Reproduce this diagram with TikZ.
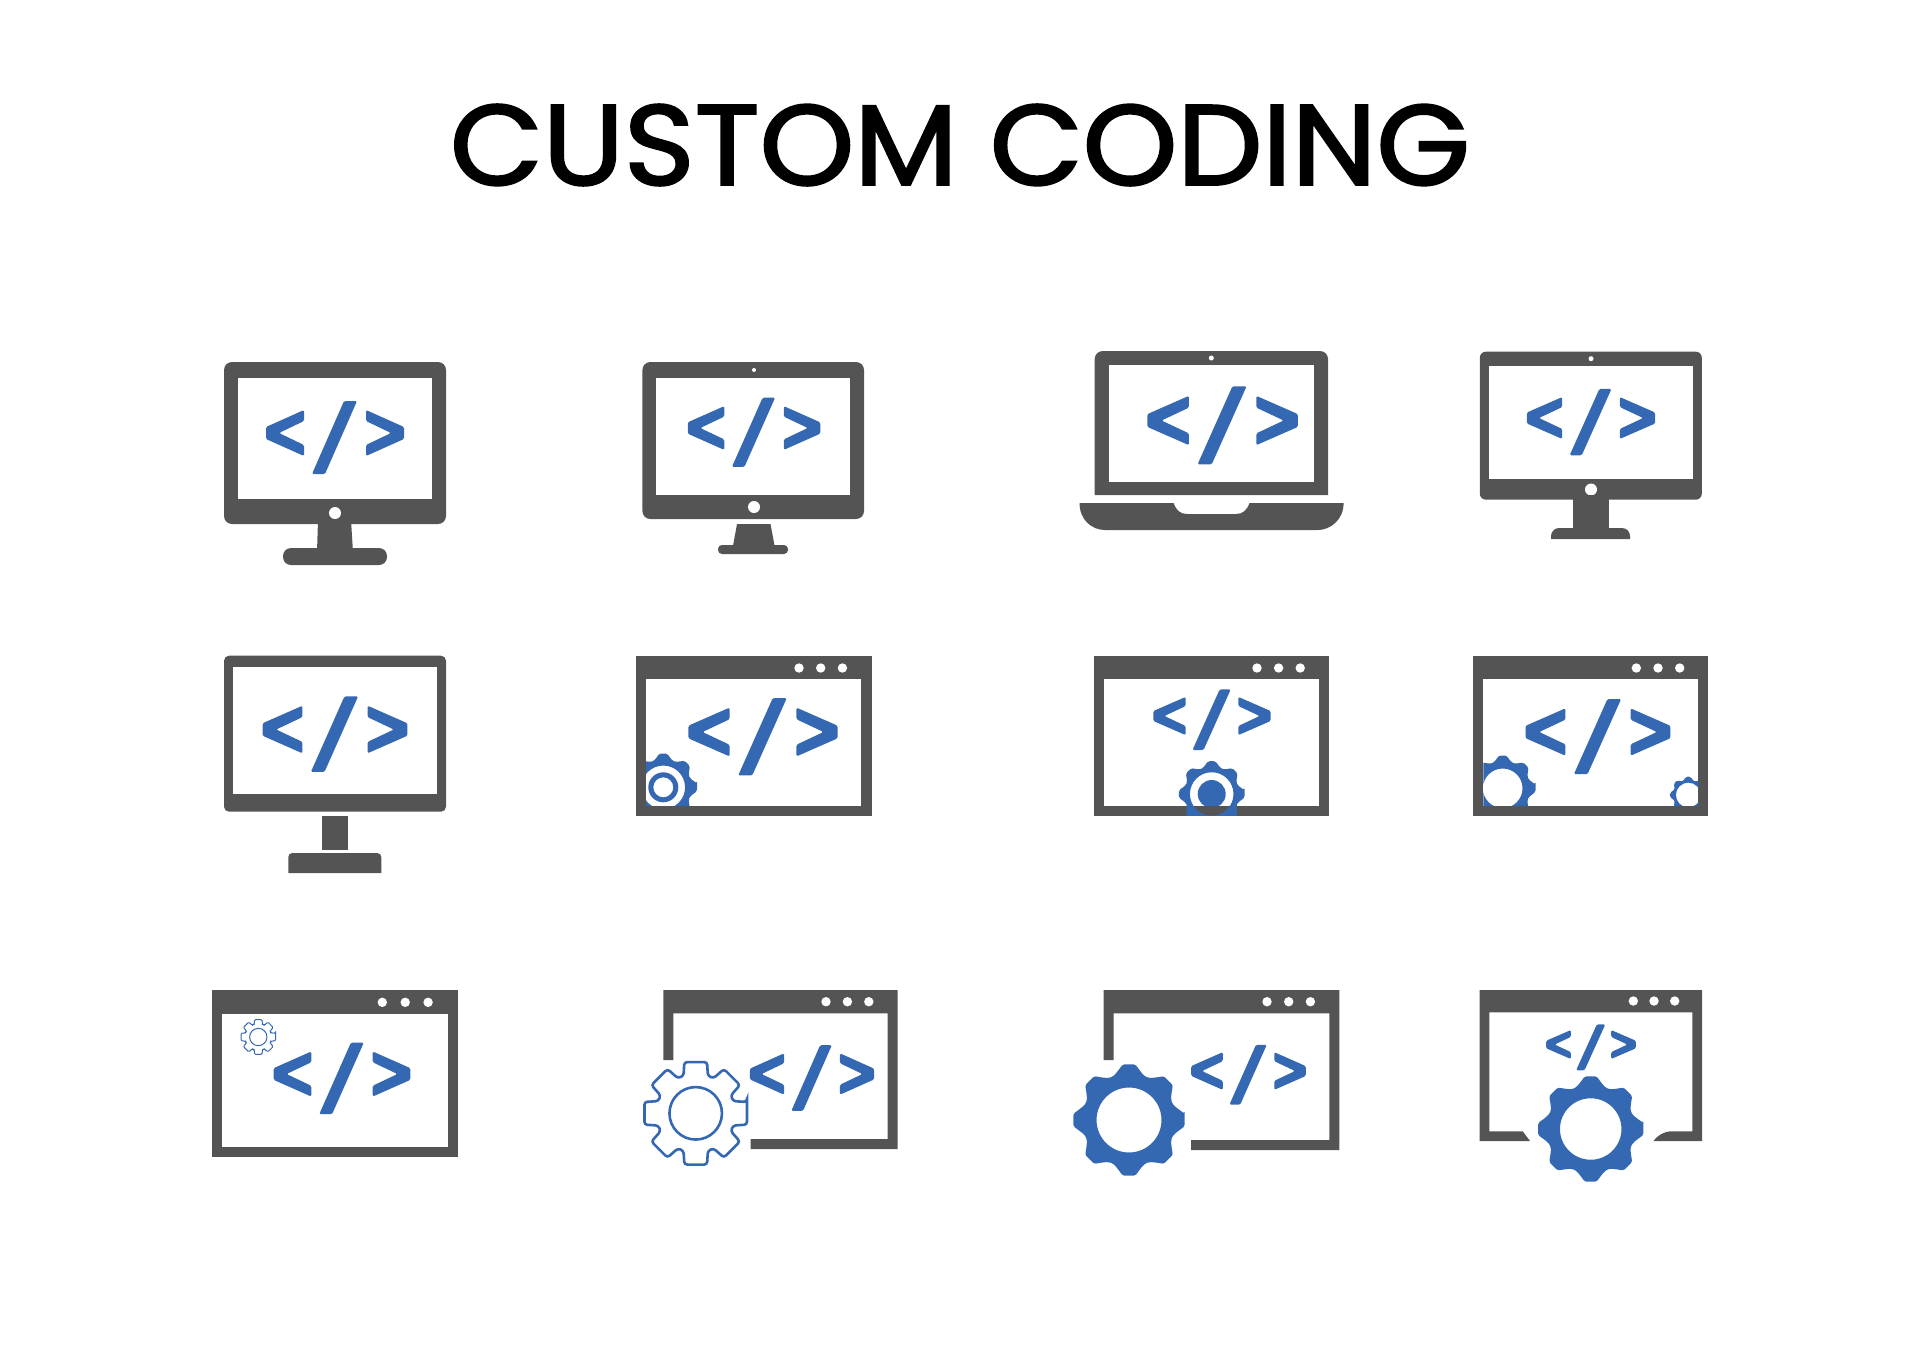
\documentclass[tikz,border=0pt]{standalone}
\usepackage{fontspec}
\newfontfamily\titlefont{Poppins}[FakeBold=2]
\definecolor{framegray}{RGB}{84, 84, 84}
\definecolor{codeblue}{RGB}{53, 104, 178}

% </> at centre (#1,#2), xscale #3, yscale #4
\newcommand{\codetag}[4]{%
  \begin{scope}[shift={(#1,#2)}, xscale=#3, yscale=#4, fill=codeblue, rounded corners=0.7pt]
    \fill (-31,-23) -- (-31,-12) -- (-56,0) -- (-31,12) -- (-31,23) -- (-69,6) -- (-69,-6) -- cycle;
    \fill (31,-23) -- (31,-12) -- (56,0) -- (31,12) -- (31,23) -- (69,6) -- (69,-6) -- cycle;
    \fill (9,-32) -- (22,-32) -- (-10,41) -- (-23,41) -- cycle;
  \end{scope}}
% filled gear: centre (#1,#2), radius #3, hole as a fraction of the radius #4
\newcommand{\solidgear}[4]{%
  \begin{scope}[shift={(#1,#2)}, scale=#3]
    \fill[codeblue, even odd rule, rounded corners=0.8pt] (-6.5:1)
      \foreach \a in {0,45,...,315} { -- ({\a+6.5}:1) .. controls ({\a+22.5}:.79) .. ({\a+38.5}:1) } -- cycle
      (0,0) circle (#4);
  \end{scope}}
% outlined gear: centre (#1,#2), radius #3, ring #4, line width #5
\newcommand{\linegear}[5]{%
  \begin{scope}[shift={(#1,#2)}, scale=#3]
    \filldraw[fill=white, draw=codeblue, line width=#5, rounded corners=1.1*#5] (-12.5:1)
      \foreach \a in {0,45,...,315} { -- ({\a+12.5}:1) -- ({\a+18}:.75) -- ({\a+27}:.75) -- ({\a+32.5}:1) } -- cycle;
    \draw[codeblue, line width=#5] (0,0) circle (#4);
  \end{scope}}
% three window dots, first at x=#1, spaced #2, at y=#3
\newcommand{\windowdots}[3]{%
  \foreach \n in {0,1,2} { \fill[white] ({#1+\n*#2},#3) circle (4.7); }}

\begin{document}
\begin{tikzpicture}[
  x=0.5pt, y=-0.5pt,
  body/.style={fill=framegray},
  screen/.style={fill=white},
]
  \useasboundingbox (0,0) rectangle (1920,1371);

  % Title
  \node[font=\titlefont\fontsize{57}{57}\selectfont, xscale=1.055, inner sep=0pt] (title) at (960,145) {CUSTOM CODING};

  % Monitor, round base
  \fill[body, rounded corners=4pt] (224,362) rectangle (446,524);
  \fill[screen] (237.5,378) rectangle (432,499);
  \fill[white] (335,513) circle (6);
  \fill[body] (318,520) -- (351,520) -- (353,552) -- (317,552) -- cycle;
  \fill[body, rounded corners=4pt] (283,548) rectangle (387,565);
  \codetag{335}{433}{1}{1}

  % Monitor, camera
  \fill[body, rounded corners=4pt] (642.4,362) rectangle (864,519);
  \fill[screen] (656,378) rectangle (850,495);
  \fill[white] (754,370) circle (2);
  \fill[white] (754,507) circle (6);
  \fill[body] (737,524) -- (770.5,524) -- (775,548) -- (732.6,548) -- cycle;
  \fill[body, rounded corners=2pt] (718,545) rectangle (788,554);
  \codetag{754}{428}{.96}{.95}

  % Laptop
  \fill[body] (1094.7,495) [rounded corners=4pt] -- (1094.7,351) -- (1328,351) [sharp corners] -- (1328,495) -- cycle;
  \fill[screen] (1109,365) rectangle (1313.7,481.7);
  \fill[white] (1211.3,358) circle (2.5);
  \fill[body] (1079.5,503) -- (1173.6,503) .. controls (1176,510) and (1180,514) .. (1187,514) -- (1236,514) .. controls (1243,514) and (1247,510) .. (1249.5,503) -- (1343.6,503) .. controls (1343.6,520) and (1330,530) .. (1318,530) -- (1105,530) .. controls (1092,530) and (1079.5,520) .. (1079.5,503) -- cycle;
  \codetag{1222.6}{420.5}{1.09}{1.07}

  % Monitor, straight stand
  \fill[body, rounded corners=3pt] (1479.8,351.7) rectangle (1701.8,499.7);
  \fill[screen] (1489,366) rectangle (1692.7,478.7);
  \fill[white] (1591,358.7) circle (2.5);
  \fill[white] (1591,489.5) circle (6);
  \fill[body] (1572.6,495) rectangle (1609.4,532);
  \fill[body] (1551,539) [rounded corners=4pt] -- (1551,528) -- (1630,528) [sharp corners] -- (1630,539) -- cycle;
  \codetag{1591}{418}{.93}{.91}

  % Monitor, block stand
  \fill[body, rounded corners=2.5pt] (224,655.7) rectangle (446,811.7);
  \fill[screen] (232.7,667.3) rectangle (437,794.3);
  \fill[body] (321.7,815.7) rectangle (348,850.3);
  \fill[body] (288.3,873) [rounded corners=2pt] -- (288.3,853) -- (381.3,853) [sharp corners] -- (381.3,873) -- cycle;
  \codetag{335}{729.5}{1.05}{1.035}

  % Window, gear bottom left
  \fill[body] (635.7,655.7) rectangle (871.7,815.7);
  \fill[screen] (646,679.3) rectangle (861,805.7);
  \windowdots{799}{21.7}{668}
  \codetag{763}{732}{1.08}{1.06}
  \begin{scope}
    \clip (646,679.3) rectangle (861,805.7);
    \solidgear{663.3}{787.3}{34}{.64}
    \fill[codeblue, even odd rule] (663.3,787.3) circle (15) (663.3,787.3) circle (10);
  \end{scope}

  % Window, gear on the bottom bar
  \fill[body] (1093.7,655.7) rectangle (1329,815.7);
  \fill[screen] (1103.7,679.3) rectangle (1319,805.7);
  \windowdots{1257}{21.6}{668}
  \codetag{1212}{716}{.85}{.83}
  \begin{scope}
    \clip (1093.7,655.7) rectangle (1329,815.7);
    \solidgear{1211.7}{794}{33}{.66}
  \end{scope}
  \begin{scope}
    \clip (1103.7,679.3) rectangle (1319,805.7);
    \fill[codeblue] (1211.7,794) circle (14);
  \end{scope}

  % Window, two gears
  \fill[body] (1473.3,655.7) rectangle (1708.3,815.7);
  \fill[screen] (1483.3,679.3) rectangle (1698.3,805.7);
  \windowdots{1636.3}{21.7}{668}
  \codetag{1598}{732}{1.05}{1.03}
  \begin{scope}
    \clip (1483.3,679.3) rectangle (1698.3,805.7);
    \solidgear{1502.7}{788.3}{33}{.6}
    \solidgear{1688.3}{795}{18.5}{.67}
  \end{scope}

  % Window, small outlined gear
  \fill[body] (211.7,990) rectangle (458.3,1157.3);
  \fill[screen] (222,1014.3) rectangle (447.7,1146.7);
  \windowdots{382.3}{22.9}{1002.3}
  \codetag{342}{1074}{.99}{.98}
  \linegear{258.3}{1037}{17.7}{.49}{.5pt}

  % Window, large outlined gear
  \fill[body] (663.3,1060) -- (663.3,990) -- (897.7,990) -- (897.7,1149) -- (750.7,1149) -- (750.7,1139) -- (887.7,1139) -- (887.7,1013.3) -- (673.3,1013.3) -- (673.3,1060) -- cycle;
  \windowdots{826}{21.4}{1001.7}
  \codetag{812}{1074}{.9}{.9}
  \linegear{695.7}{1113.3}{52.5}{.5}{1.3pt}

  % Window, large filled gear
  \fill[body] (1103.7,1060) -- (1103.7,990) -- (1339.3,990) -- (1339.3,1150) -- (1191,1150) -- (1191,1140) -- (1329.3,1140) -- (1329.3,1013.3) -- (1113.7,1013.3) -- (1113.7,1060) -- cycle;
  \windowdots{1267}{21.7}{1001.7}
  \codetag{1248.5}{1071}{.83}{.82}
  \solidgear{1129}{1120}{56}{.58}

  % Window, centred gear
  \fill[body] (1479.7,1141) -- (1479.7,990) -- (1702,990) -- (1702,1141) -- (1653.3,1141) .. controls (1658,1135) and (1664,1131.3) .. (1672,1131.3) -- (1692.3,1131.3) -- (1692.3,1012.3) -- (1489.3,1012.3) -- (1489.3,1131.3) -- (1522.7,1131.3) -- (1530,1141) -- cycle;
  \windowdots{1633.3}{20.7}{1001}
  \codetag{1591}{1044.5}{.65}{.63}
  \solidgear{1590.7}{1129}{53}{.58}
\end{tikzpicture}
\end{document}
